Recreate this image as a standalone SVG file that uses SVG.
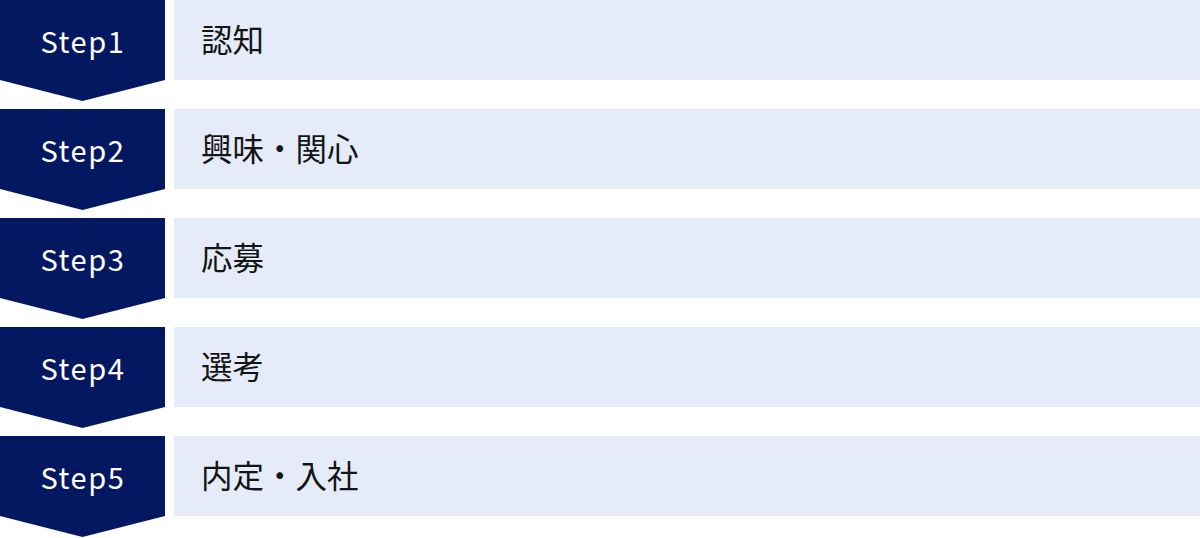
<svg xmlns="http://www.w3.org/2000/svg" width="1200" height="538" viewBox="0 0 1200 538">
<defs>
<style>
.chev{fill:#041862}
.box{fill:#e5ebf8}
.st{font-family:"Noto Sans CJK JP","Noto Sans",sans-serif;font-size:29px;font-weight:400;fill:#ffffff;letter-spacing:1.6px;text-anchor:middle}
.lb{font-family:"Noto Sans CJK JP","Noto Sans",sans-serif;font-size:31.5px;font-weight:400;fill:#141414}
</style>
<path id="chevShape" d="M0 0H165V80L82.5 101L0 80Z"/>
</defs>
<rect width="1200" height="538" fill="#ffffff"/>
<g id="step1" transform="translate(0,0)">
<use href="#chevShape" class="chev"/>
<rect class="box" x="174" y="0" width="1026" height="80"/>
<text class="st" x="83" y="52.5">Step1</text>
<text class="lb" x="201" y="52">認知</text>
</g>
<g id="step2" transform="translate(0,109)">
<use href="#chevShape" class="chev"/>
<rect class="box" x="174" y="0" width="1026" height="80"/>
<text class="st" x="83" y="52.5">Step2</text>
<text class="lb" x="201" y="52">興味・関心</text>
</g>
<g id="step3" transform="translate(0,218)">
<use href="#chevShape" class="chev"/>
<rect class="box" x="174" y="0" width="1026" height="80"/>
<text class="st" x="83" y="52.5">Step3</text>
<text class="lb" x="201" y="52">応募</text>
</g>
<g id="step4" transform="translate(0,327)">
<use href="#chevShape" class="chev"/>
<rect class="box" x="174" y="0" width="1026" height="80"/>
<text class="st" x="83" y="52.5">Step4</text>
<text class="lb" x="201" y="52">選考</text>
</g>
<g id="step5" transform="translate(0,436)">
<use href="#chevShape" class="chev"/>
<rect class="box" x="174" y="0" width="1026" height="80"/>
<text class="st" x="83" y="52.5">Step5</text>
<text class="lb" x="201" y="52">内定・入社</text>
</g>
<g id="connectors"></g>
</svg>
